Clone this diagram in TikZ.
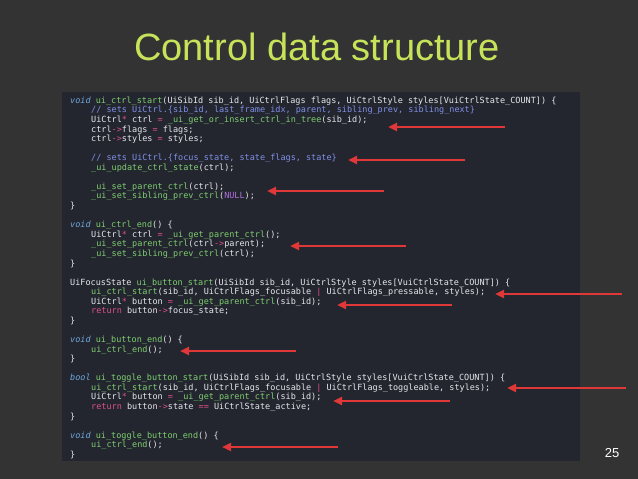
\documentclass[tikz,border=0pt]{standalone}
\usepackage{fontspec}
\setmainfont{Liberation Sans}
\newfontfamily\codefont{DejaVu Sans Mono}
\usetikzlibrary{arrows.meta}
\definecolor{bg}{HTML}{333333}
\definecolor{codebg}{HTML}{23262E}
\definecolor{ttl}{HTML}{C6E35A}
\definecolor{kw}{HTML}{6FA8DC}
\definecolor{fn}{HTML}{7FCF72}
\definecolor{cm}{HTML}{8090E8}
\definecolor{op}{HTML}{E0508A}
\definecolor{nu}{HTML}{B070E0}
\definecolor{tx}{HTML}{E8E8EE}
\definecolor{arr}{HTML}{E03838}
\newcommand\Kw[1]{\textcolor{kw}{\textit{#1}}}
\newcommand\Fn[1]{\textcolor{fn}{#1}}
\newcommand\Cm[1]{\textcolor{cm}{#1}}
\newcommand\Op[1]{\textcolor{op}{#1}}
\newcommand\Nu[1]{\textcolor{nu}{#1}}
\tikzset{
  cl/.style={anchor=west,inner sep=0pt,text=tx,font=\codefont\fontsize{8.5}{9.6}\selectfont},
  redarrow/.style={draw=arr,line width=2.4pt,-{Triangle[length=9pt,width=8pt]}}
}
\begin{document}
\begin{tikzpicture}[x=1pt,y=-1pt]
\fill[bg] (0,0) rectangle (638,479);
\useasboundingbox (0,0) rectangle (638,479);
\fill[codebg] (62,92) rectangle (580,461);
\node[font=\fontsize{38}{42}\selectfont,text=ttl] (title) at (317,47) {Control data structure};
\node[font=\fontsize{13}{15}\selectfont,text=white] (page) at (612,453) {25};
\node[cl] (l1) at (70,101) {\Kw{void} \Fn{ui\_ctrl\_start}(UiSibId sib\_id, UiCtrlFlags flags, UiCtrlStyle styles[VuiCtrlState\_COUNT]) \{};
\node[cl] (l2) at (91,110.6) {\Cm{// sets UiCtrl.\{sib\_id, last\_frame\_idx, parent, sibling\_prev, sibling\_next\}}};
\node[cl] (l3) at (91,120.1) {UiCtrl\Op{*} ctrl \Op{=} \Fn{\_ui\_get\_or\_insert\_ctrl\_in\_tree}(sib\_id);};
\node[cl] (l4) at (91,129.7) {ctrl\Op{->}flags \Op{=} flags;};
\node[cl] (l5) at (91,139.3) {ctrl\Op{->}styles \Op{=} styles;};
\node[cl] (l7) at (91,158.4) {\Cm{// sets UiCtrl.\{focus\_state, state\_flags, state\}}};
\node[cl] (l8) at (91,168.0) {\Fn{\_ui\_update\_ctrl\_state}(ctrl);};
\node[cl] (l10) at (91,187.1) {\Fn{\_ui\_set\_parent\_ctrl}(ctrl);};
\node[cl] (l11) at (91,196.7) {\Fn{\_ui\_set\_sibling\_prev\_ctrl}(\Nu{NULL});};
\node[cl] (l12) at (70,206.3) {\}};
\node[cl] (l14) at (70,225.4) {\Kw{void} \Fn{ui\_ctrl\_end}() \{};
\node[cl] (l15) at (91,235.0) {UiCtrl\Op{*} ctrl \Op{=} \Fn{\_ui\_get\_parent\_ctrl}();};
\node[cl] (l16) at (91,244.5) {\Fn{\_ui\_set\_parent\_ctrl}(ctrl\Op{->}parent);};
\node[cl] (l17) at (91,254.1) {\Fn{\_ui\_set\_sibling\_prev\_ctrl}(ctrl);};
\node[cl] (l18) at (70,263.7) {\}};
\node[cl] (l20) at (70,282.8) {UiFocusState \Fn{ui\_button\_start}(UiSibId sib\_id, UiCtrlStyle styles[VuiCtrlState\_COUNT]) \{};
\node[cl] (l21) at (91,292.4) {\Fn{ui\_ctrl\_start}(sib\_id, UiCtrlFlags\_focusable \Op{|} UiCtrlFlags\_pressable, styles);};
\node[cl] (l22) at (91,302.0) {UiCtrl\Op{*} button \Op{=} \Fn{\_ui\_get\_parent\_ctrl}(sib\_id);};
\node[cl] (l23) at (91,311.5) {\Op{return} button\Op{->}focus\_state;};
\node[cl] (l24) at (70,321.1) {\}};
\node[cl] (l26) at (70,340.2) {\Kw{void} \Fn{ui\_button\_end}() \{};
\node[cl] (l27) at (91,349.8) {\Fn{ui\_ctrl\_end}();};
\node[cl] (l28) at (70,359.4) {\}};
\node[cl] (l30) at (70,378.5) {\Kw{bool} \Fn{ui\_toggle\_button\_start}(UiSibId sib\_id, UiCtrlStyle styles[VuiCtrlState\_COUNT]) \{};
\node[cl] (l31) at (91,388.1) {\Fn{ui\_ctrl\_start}(sib\_id, UiCtrlFlags\_focusable \Op{|} UiCtrlFlags\_toggleable, styles);};
\node[cl] (l32) at (91,397.6) {UiCtrl\Op{*} button \Op{=} \Fn{\_ui\_get\_parent\_ctrl}(sib\_id);};
\node[cl] (l33) at (91,407.2) {\Op{return} button\Op{->}state \Op{==} UiCtrlState\_active;};
\node[cl] (l34) at (70,416.8) {\}};
\node[cl] (l36) at (70,435.9) {\Kw{void} \Fn{ui\_toggle\_button\_end}() \{};
\node[cl] (l37) at (91,445.5) {\Fn{ui\_ctrl\_end}();};
\node[cl] (l38) at (70,455.0) {\}};
\foreach \n/\hx/\tx/\yy in {a1/388/505/127, a2/348/465/160, a3/267/384/191, a4/290/406/246, a5/495/622/294, a6/337/452/305, a7/180/296/351, a8/507/626/388, a9/333/450/401, a10/222/338/447}{
  \coordinate (\n h) at (\hx,\yy);
  \coordinate (\n t) at (\tx,\yy);
  \draw[redarrow] (\n t) -- (\n h);
}
\end{tikzpicture}
\end{document}
